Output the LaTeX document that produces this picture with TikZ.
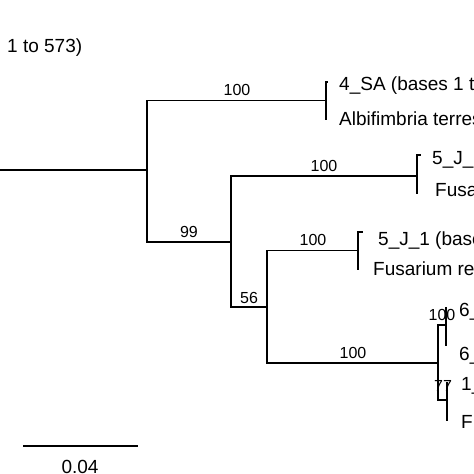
\documentclass[tikz,border=0pt]{standalone}
\usepackage{fontspec}
\setmainfont{Liberation Sans}
\usetikzlibrary{positioning, calc}
\tikzset{
  branch/.style={draw=black, line width=1.6pt, line cap=rect},
  tip/.style={inner sep=0pt, anchor=base west, font=\fontsize{19}{21}\selectfont},
  boot/.style={inner sep=0pt, anchor=base, font=\fontsize{16}{18}\selectfont},
  scalebar/.style={draw=black, line width=1.6pt}
}

\begin{document}
\begin{tikzpicture}[x=1pt, y=-1pt]
  \useasboundingbox (0,0) rectangle (474,474);
  \clip (0,0) rectangle (474,474);

  % internal nodes of the tree
  \coordinate (root) at (-5,170);
  \coordinate (n1) at (147,170);
  \coordinate (a) at (326,100.5);
  \coordinate (n2) at (231,242);
  \coordinate (b) at (417,176);
  \coordinate (n3) at (267,307);
  \coordinate (c) at (358,250.5);
  \coordinate (d) at (438,363);
  \coordinate (e) at (446,325);
  \coordinate (f) at (447,400);
  % tips
  \coordinate (ta1) at (327,82);
  \coordinate (ta2) at (326,119);
  \coordinate (tb1) at (420,155);
  \coordinate (tb2) at (417,193);
  \coordinate (tc1) at (362,232);
  \coordinate (tc2) at (358,269);
  \coordinate (te1) at (446,308);
  \coordinate (te2) at (446,345);
  \coordinate (tf1) at (447,383);
  \coordinate (tf2) at (447,420);

  % branches
  \draw[branch] (root) -- (n1);
  \draw[branch] (n1) |- (a);
  \draw[branch] (n1) |- (n2);
  \draw[branch] (a) |- (ta1);
  \draw[branch] (a) |- (ta2);
  \draw[branch] (n2) |- (b);
  \draw[branch] (n2) |- (n3);
  \draw[branch] (b) |- (tb1);
  \draw[branch] (b) |- (tb2);
  \draw[branch] (n3) |- (c);
  \draw[branch] (n3) |- (d);
  \draw[branch] (c) |- (tc1);
  \draw[branch] (c) |- (tc2);
  \draw[branch] (d) |- (e);
  \draw[branch] (d) |- (f);
  \draw[branch] (e) |- (te1);
  \draw[branch] (e) |- (te2);
  \draw[branch] (f) |- (tf1);
  \draw[branch] (f) |- (tf2);

  % bootstrap values
  \node[boot] (ba) at (237,95) {100};
  \node[boot] (bn2) at (189,237) {99};
  \node[boot] (bb) at (324,171) {100};
  \node[boot] (bn3) at (249,303) {56};
  \node[boot] (bc) at (313,245) {100};
  \node[boot] (bd) at (353,358) {100};
  \node[boot] (be) at (442,320) {100};
  \node[boot] (bf) at (443,391) {77};

  % tip labels
  \node[tip] (title) at (7,52) {1 to 573)};
  \node[tip] (la1) at (339,90) {4\_SA (bases 1 t};
  \node[tip] (la2) at (339,125) {Albifimbria terres};
  \node[tip] (lb1) at (432,164) {5\_J\_};
  \node[tip] (lb2) at (435,196) {Fusa};
  \node[tip] (lc1) at (378,245) {5\_J\_1 (base};
  \node[tip] (lc2) at (373,275) {Fusarium rec};
  \node[tip] (le1) at (459,316) {6\_};
  \node[tip] (le2) at (459,360) {6\_};
  \node[tip] (lf1) at (461,390) {1\_};
  \node[tip] (lf2) at (461,428) {F};

  % scale bar
  \coordinate (sb1) at (23,446);
  \coordinate (sb2) at (138,446);
  \draw[scalebar] (sb1) -- (sb2);
  \node[tip, anchor=base] (sblab) at (80,473) {0.04};
\end{tikzpicture}
\end{document}
